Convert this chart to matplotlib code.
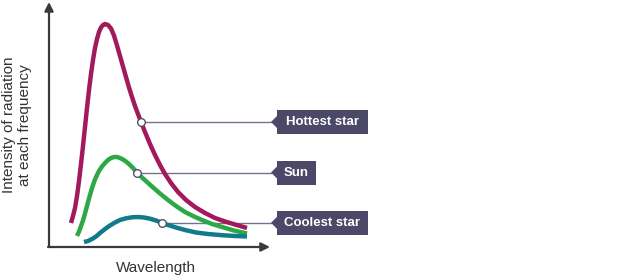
import matplotlib
matplotlib.use("Agg")
import matplotlib.pyplot as plt
from matplotlib.patches import Rectangle, Polygon

# curves of intensity against wavelength
hot_wl = [22, 24, 26, 28, 30, 32, 34, 36, 38, 40, 42, 44, 46, 48, 50, 52, 54, 56,
          59, 62, 65, 68, 71, 74, 77, 80, 83, 86, 89, 92,
          96, 101, 106, 111, 116, 122, 129, 137, 146, 156, 166, 176, 186, 198]
hot_I = [24, 31, 39, 51, 66, 83, 101, 120, 139, 157, 173, 187, 199, 208, 215, 219.5, 222, 223,
         222, 218.5, 211.5, 201.5, 191, 180.5, 170, 159.5, 150, 141, 133, 125,
         115, 103, 92, 82, 73, 64, 55, 47, 40, 34, 29, 25.5, 22.5, 19]

sun_wl = [28, 30, 32, 34, 36, 38, 40, 42, 44, 46, 48, 50, 53, 56, 59, 62, 65, 68,
          71, 74, 77, 80, 84, 88, 93, 98, 103, 111, 119, 127, 136, 145, 153, 163,
          173, 185, 198]
sun_I = [11, 15.5, 21, 26.5, 33.5, 41, 48.5, 55.5, 62, 67.5, 72, 76, 80.5, 84, 87,
         89, 90, 90, 89, 87.5, 85.5, 83, 79, 74.5, 69.5, 65, 60.5, 53.5, 47, 41,
         35, 30.5, 27, 23, 20, 16.5, 13.5]

cool_wl = [35, 39, 43, 47, 51, 56, 61, 66, 71, 77, 83, 89, 95, 101, 107, 113, 119,
           127, 136, 147, 159, 173, 186, 198]
cool_I = [5, 6, 8, 10.5, 14, 18, 21.5, 24.5, 27, 28.7, 29.7, 30, 29.5, 28.3, 26.5,
          24.2, 22, 19.5, 17, 14.5, 13, 11.8, 11, 10.5]

labels = ["Hottest star", "Sun", "Coolest star"]
marker_idx = [29, 23, 15]
colors = ["#a31a5c", "#2ea846", "#117b8b"]

plt.rcParams['font.family'] = ['Liberation Sans', 'DejaVu Sans']

fig = plt.figure(figsize=(6.24, 2.79), dpi=100)
ax = fig.add_axes([0, 0, 1, 1])
ax.set_xlim(-49, 575)
ax.set_ylim(-32, 247)
ax.axis('off')

axis_col = "#3a3a3a"
ax.annotate("", xy=(0, 245), xytext=(0, 0),
            arrowprops=dict(arrowstyle='-|>', color=axis_col, lw=1.6, mutation_scale=13,
                            shrinkA=0, shrinkB=0))
ax.annotate("", xy=(221, 0), xytext=(-1, 0),
            arrowprops=dict(arrowstyle='-|>', color=axis_col, lw=1.6, mutation_scale=13,
                            shrinkA=0, shrinkB=0))

box_col = "#4b4868"
line_col = "#75738c"
box_left = 228
box_w = [91, 39, 91]
box_h = 24

series = [(hot_wl, hot_I), (sun_wl, sun_I), (cool_wl, cool_I)]
for (wl, I), col, lab, mi, bw in zip(series, colors, labels, marker_idx, box_w):
    ax.plot(wl, I, color=col, lw=3.2, solid_capstyle='butt', solid_joinstyle='round', zorder=3)
    mx, my = wl[mi], I[mi]
    # connector and marker
    ax.plot([mx, box_left - 6], [my, my], color=line_col, lw=1.0, zorder=2)
    ax.plot(mx, my, 'o', ms=5.5, mfc='white', mec='#55536a', mew=1.0, zorder=5)
    # label box with little pointer
    ax.add_patch(Rectangle((box_left, my - box_h / 2), bw, box_h, color=box_col, lw=0, zorder=4))
    ax.add_patch(Polygon([(box_left - 6, my), (box_left + 0.5, my + 6.5), (box_left + 0.5, my - 6.5)],
                         closed=True, color=box_col, lw=0, zorder=4))
    ax.text(box_left + bw / 2, my, lab, color='white', fontsize=9.5, fontweight='bold',
            ha='center', va='center', zorder=6)

ax.text(-32, 122, "Intensity of radiation\nat each frequency", rotation=90,
        ha='center', va='center', fontsize=11, color='#333333', linespacing=1.1)
ax.text(107, -21, "Wavelength", ha='center', va='center', fontsize=11, color='#333333')

fig.savefig("out.png", dpi=100)
